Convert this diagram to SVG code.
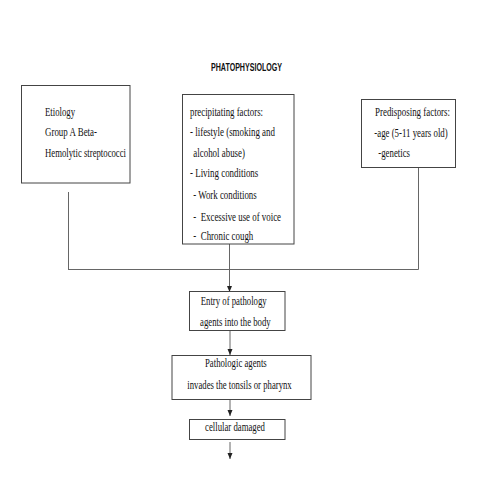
<svg xmlns="http://www.w3.org/2000/svg" width="495" height="495" viewBox="0 0 495 495">
<style>
.box{fill:#fff;stroke:#444;stroke-width:1}
.t{font-family:"Liberation Serif","Times New Roman",serif;font-size:13px;fill:#111}
.title{font-family:"Liberation Sans",Arial,sans-serif;font-size:10px;font-weight:bold;fill:#111}
.c{fill:none;stroke:#666;stroke-width:1}
</style>
<defs>
<marker id="ah" markerUnits="userSpaceOnUse" markerWidth="6" markerHeight="6" refX="6" refY="2.5" orient="auto">
<path d="M0,0 L6,2.5 L0,5 z" fill="#222"/>
</marker>
</defs>
<rect width="495" height="495" fill="#fff"/>
<text class="title" x="211" y="70.5" textLength="71" lengthAdjust="spacingAndGlyphs">PHATOPHYSIOLOGY</text>
<g id="connectors">
<line class="c" x1="68.5" y1="192" x2="68.5" y2="269.5"/>
<line class="c" x1="68" y1="269.5" x2="418.5" y2="269.5"/>
<line class="c" x1="418.5" y1="168" x2="418.5" y2="269.5"/>
<line class="c" x1="229.5" y1="244" x2="229.5" y2="292" marker-end="url(#ah)"/>
<line class="c" x1="230" y1="331" x2="230" y2="355" marker-end="url(#ah)"/>
<line class="c" x1="230" y1="399" x2="230" y2="416" marker-end="url(#ah)"/>
<line class="c" x1="230" y1="442" x2="230" y2="459" marker-end="url(#ah)"/>
</g>
<g id="etiology">
<rect class="box" x="21.5" y="85.5" width="108.5" height="97.5"/>
<text class="t" x="45" y="115.5" textLength="30" lengthAdjust="spacingAndGlyphs">Etiology</text>
<text class="t" x="45" y="135.5" textLength="52" lengthAdjust="spacingAndGlyphs">Group A Beta-</text>
<text class="t" x="45" y="157" textLength="81" lengthAdjust="spacingAndGlyphs">Hemolytic streptococci</text>
</g>
<g id="precipitating">
<rect class="box" x="182.5" y="94.5" width="111.5" height="149.5"/>
<text class="t" x="190" y="115.5" textLength="73" lengthAdjust="spacingAndGlyphs">precipitating factors:</text>
<text class="t" x="190" y="135.5" textLength="85" lengthAdjust="spacingAndGlyphs">- lifestyle (smoking and</text>
<text class="t" x="193.3" y="157" textLength="51.7" lengthAdjust="spacingAndGlyphs">alcohol abuse)</text>
<text class="t" x="190" y="177" textLength="68.3" lengthAdjust="spacingAndGlyphs">- Living conditions</text>
<text class="t" x="193.3" y="199" textLength="63.4" lengthAdjust="spacingAndGlyphs">- Work conditions</text>
<text class="t" x="193.3" y="220.5" textLength="87.7" lengthAdjust="spacingAndGlyphs" xml:space="preserve">-  Excessive use of voice</text>
<text class="t" x="193.3" y="240" textLength="60" lengthAdjust="spacingAndGlyphs" xml:space="preserve">-  Chronic cough</text>
</g>
<g id="predisposing">
<rect class="box" x="361.5" y="99.5" width="94" height="68"/>
<text class="t" x="375" y="115.5" textLength="75" lengthAdjust="spacingAndGlyphs">Predisposing factors:</text>
<text class="t" x="374.3" y="137" textLength="73.4" lengthAdjust="spacingAndGlyphs">-age (5-11 years old)</text>
<text class="t" x="378.3" y="156.5" textLength="31.7" lengthAdjust="spacingAndGlyphs">-genetics</text>
</g>
<g id="entry">
<rect class="box" x="189.5" y="291.5" width="95.5" height="39"/>
<text class="t" x="200.7" y="305" textLength="66" lengthAdjust="spacingAndGlyphs">Entry of pathology</text>
<text class="t" x="200" y="325.5" textLength="70.7" lengthAdjust="spacingAndGlyphs">agents into the body</text>
</g>
<g id="invades">
<rect class="box" x="172" y="355.5" width="139" height="44"/>
<text class="t" x="205" y="367" textLength="61.7" lengthAdjust="spacingAndGlyphs">Pathologic agents</text>
<text class="t" x="187.3" y="389" textLength="104.4" lengthAdjust="spacingAndGlyphs">invades the tonsils or pharynx</text>
</g>
<g id="cellular">
<rect class="box" x="189.5" y="419.5" width="95.5" height="20"/>
<text class="t" x="205" y="430.5" textLength="60" lengthAdjust="spacingAndGlyphs">cellular damaged</text>
</g>
</svg>
